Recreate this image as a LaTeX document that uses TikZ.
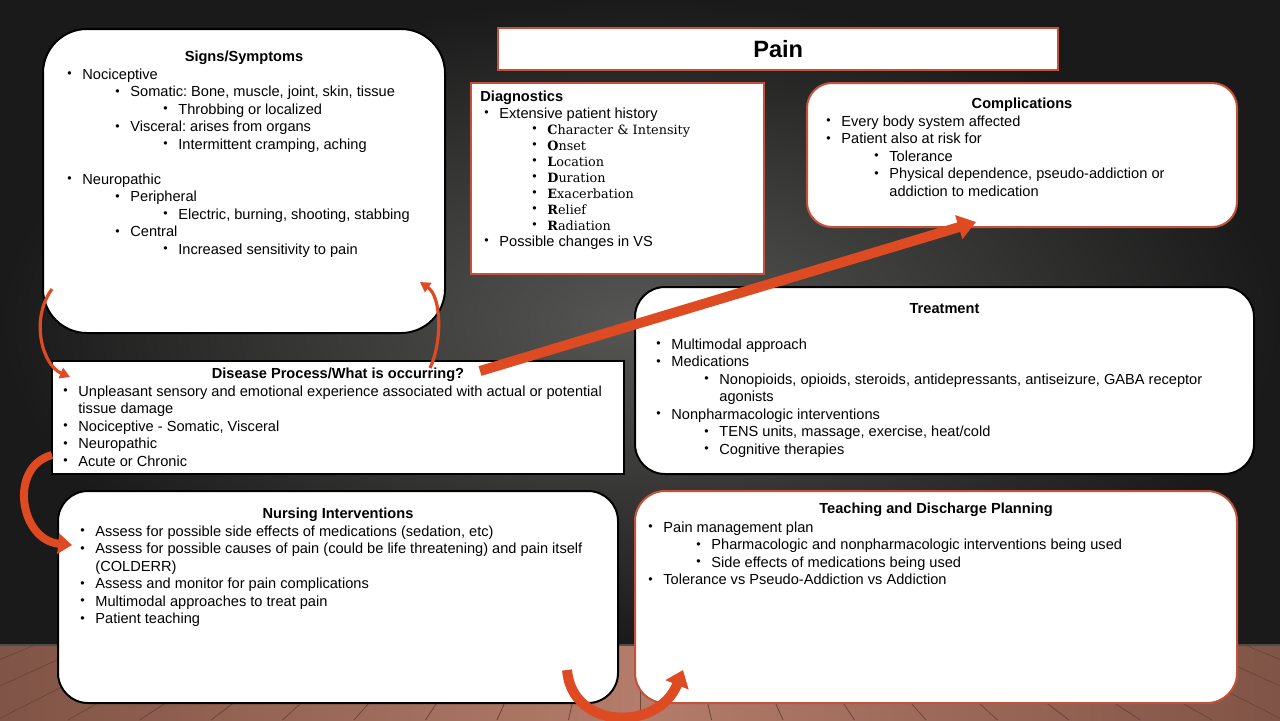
\documentclass[tikz,border=0pt]{standalone}
\usepackage{fontspec}
\setmainfont{Liberation Sans}
\newfontfamily\slabfont{DejaVu Serif}
\usepackage{graphicx}
\usetikzlibrary{arrows.meta,positioning,calc}
\frenchspacing

\definecolor{rimred}{RGB}{196,82,58}
\definecolor{arrowred}{RGB}{222,74,34}
\definecolor{wallmid}{RGB}{86,86,84}
\definecolor{walledge}{RGB}{26,26,26}
\definecolor{floorlight}{RGB}{180,124,106}
\definecolor{floordark}{RGB}{128,84,70}
\definecolor{seam}{RGB}{108,70,58}

% bullet list helpers
\newcommand{\bul}{\raisebox{0.15ex}{\scalebox{0.85}{•}}}
\newcommand{\lone}[1]{\makebox[7.5pt][l]{\bul}#1}
\newcommand{\ltwo}[1]{\hspace*{24pt}\makebox[7.5pt][l]{\bul}#1}
\newcommand{\lthree}[1]{\hspace*{48pt}\makebox[7.5pt][l]{\bul}#1}
\newcommand{\slab}{\slabfont\fontsize{6.4}{8}\selectfont}
\newcommand{\mnem}[2]{\ltwo{{\slab\textbf{#1}#2}}}
\newcommand{\blist}[1]{\parbox[t]{330pt}{\raggedright #1}}

\begin{document}
\begin{tikzpicture}[x=0.5pt, y=-0.5pt,
  panel/.style={draw=#1, line width=1pt, fill=white, anchor=north west, inner sep=0pt},
  panel/.default=black,
  hd/.style={font=\bfseries\fontsize{7.3}{8.75}\selectfont, inner sep=0pt, anchor=base},
  body/.style={font=\fontsize{7.3}{8.75}\selectfont, inner sep=0pt, anchor=base west},
  arr/.style={draw=arrowred, line width=#1}]
\useasboundingbox (0,0) rectangle (1280,720);

% wall and floor
\shade[inner color=wallmid, outer color=walledge] (0,0) rectangle (1280,645);
\shade[left color=floordark, right color=floordark, middle color=floorlight] (0,645) rectangle (1280,720);
\foreach \s in {-660,-605,...,660}
  \draw[seam, line width=0.4pt] ({640+\s},645) -- ({640+1.3*\s},720);
\draw[black!70, line width=1pt] (0,645) -- (1280,645);

% panels
\node[panel, rounded corners=22pt, minimum width=201pt, minimum height=152pt] (ss) at (42,28) {};
\node[panel=rimred, line width=1.2pt, minimum width=280pt, minimum height=21pt] (pain) at (497,27) {};
\node[panel=rimred, line width=0.8pt, minimum width=146.5pt, minimum height=95.5pt] (diag) at (470,82) {};
\node[panel=rimred, rounded corners=12.5pt, minimum width=215pt, minimum height=72pt] (comp) at (806,82) {};
\node[panel, rounded corners=15pt, minimum width=309.5pt, minimum height=93.5pt] (treat) at (634,286) {};
\node[panel, minimum width=286pt, minimum height=56.5pt] (dp) at (51,360) {};
\node[panel, rounded corners=15pt, minimum width=280pt, minimum height=106pt] (ni) at (57,490) {};
\node[panel=rimred, rounded corners=15pt, minimum width=301pt, minimum height=106pt] (td) at (634,490) {};

% titles
\node[font=\bfseries\fontsize{11.8}{14}\selectfont, inner sep=0pt] (painhd) at (pain.center) {Pain};
\node[hd] (sshd) at ($(ss.north)+(0,33)$) {Signs/Symptoms};
\node[hd, anchor=base west] (diaghd) at ($(diag.north west)+(10,19)$) {Diagnostics};
\node[hd] (comphd) at ($(comp.north)+(0,26)$) {Complications};
\node[hd] (treathd) at ($(treat.north)+(0,27)$) {Treatment};
\node[hd] (dphd) at ($(dp.north)+(0,18)$) {Disease Process/What is occurring?};
\node[hd] (nihd) at ($(ni.north)+(0,28)$) {Nursing Interventions};
\node[hd] (tdhd) at ($(td.north)+(0,23)$) {Teaching and Discharge Planning};

% bodies
\node[body] (sstxt) at ($(ss.north west)+(25,51)$) {\blist{%
  \lone{Nociceptive}\\
  \ltwo{Somatic: Bone, muscle, joint, skin, tissue}\\
  \lthree{Throbbing or localized}\\
  \ltwo{Visceral: arises from organs}\\
  \lthree{Intermittent cramping, aching}\\[8.75pt]
  \lone{Neuropathic}\\
  \ltwo{Peripheral}\\
  \lthree{Electric, burning, shooting, stabbing}\\
  \ltwo{Central}\\
  \lthree{Increased sensitivity to pain}}};
\node[body, font=\fontsize{7.3}{8}\selectfont] (diagtxt) at ($(diag.north west)+(14,36)$) {\blist{%
  \lone{Extensive patient history}\\
  \mnem{C}{haracter \& Intensity}\\
  \mnem{O}{nset}\\
  \mnem{L}{ocation}\\
  \mnem{D}{uration}\\
  \mnem{E}{xacerbation}\\
  \mnem{R}{elief}\\
  \mnem{R}{adiation}\\
  \lone{Possible changes in VS}}};
\node[body] (comptxt) at ($(comp.north west)+(20,44)$) {\blist{%
  \lone{Every body system affected}\\
  \lone{Patient also at risk for}\\
  \ltwo{Tolerance}\\
  \ltwo{Physical dependence, pseudo-addiction or}\\
  \hspace*{31.5pt}addiction to medication}};
\node[body] (treattxt) at ($(treat.north west)+(22,63)$) {\blist{%
  \lone{Multimodal approach}\\
  \lone{Medications}\\
  \ltwo{Nonopioids, opioids, steroids, antidepressants, antiseizure, GABA receptor}\\
  \hspace*{31.5pt}agonists\\
  \lone{Nonpharmacologic interventions}\\
  \ltwo{TENS units, massage, exercise, heat/cold}\\
  \ltwo{Cognitive therapies}}};
\node[body] (dptxt) at ($(dp.north west)+(12,36)$) {\blist{%
  \lone{Unpleasant sensory and emotional experience associated with actual or potential}\\
  \hspace*{7.5pt}tissue damage\\
  \lone{Nociceptive - Somatic, Visceral}\\
  \lone{Neuropathic}\\
  \lone{Acute or Chronic}}};
\node[body] (nitxt) at ($(ni.north west)+(23,46)$) {\blist{%
  \lone{Assess for possible side effects of medications (sedation, etc)}\\
  \lone{Assess for possible causes of pain (could be life threatening) and pain itself}\\
  \hspace*{7.5pt}(COLDERR)\\
  \lone{Assess and monitor for pain complications}\\
  \lone{Multimodal approaches to treat pain}\\
  \lone{Patient teaching}}};
\node[body] (tdtxt) at ($(td.north west)+(14,42)$) {\blist{%
  \lone{Pain management plan}\\
  \ltwo{Pharmacologic and nonpharmacologic interventions being used}\\
  \ltwo{Side effects of medications being used}\\
  \lone{Tolerance vs Pseudo-Addiction vs Addiction}}};

% arrows
\draw[arr=5pt, -{Triangle[length=9pt,width=12pt]}]
  ($(dp.north east)+(-145,11)$) -- ($(comp.south west)+(170,-6)$);
\draw[arr=1.6pt, -{Triangle[length=5pt,width=5.5pt]}]
  ($(ss.south west)+(10,-45)$) .. controls +(-22,30) and +(-28,-12) .. ($(dp.north west)+(19,17)$);
\draw[arr=1.6pt, -{Triangle[length=5pt,width=5.5pt]}]
  ($(dp.north west)+(379,8)$) .. controls +(12,-25) and +(22,15) .. ($(ss.south east)+(-26,-52)$);
\draw[arr=4pt, -{Triangle[length=7pt,width=10pt]}]
  ($(dp.south west)+(1,-20)$) .. controls +(-44,12) and +(-52,-5) .. ($(ni.north west)+(15,55)$);
\draw[arr=5pt, -{Triangle[length=8pt,width=12pt]}]
  ($(ni.south east)+(-52,-34)$) .. controls +(5,60) and +(-25,62) .. ($(td.south west)+(49,-34)$);
\end{tikzpicture}
\end{document}
